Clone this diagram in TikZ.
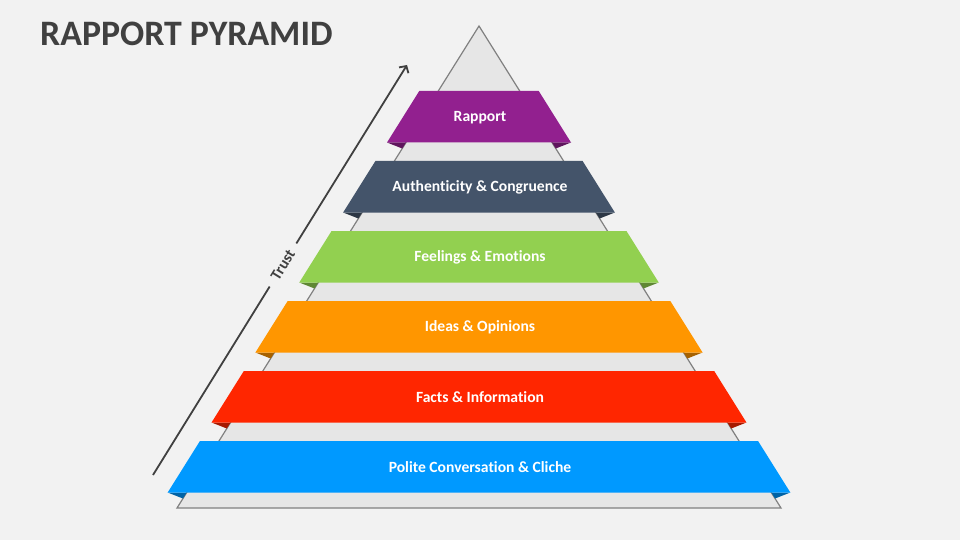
\documentclass[tikz,border=0pt]{standalone}
\usepackage{fontspec}
\setmainfont{Carlito}[Ligatures=NoCommon]
\usetikzlibrary{arrows.meta}
\definecolor{bg}{HTML}{F2F2F2}
\definecolor{titlegray}{HTML}{404040}
\definecolor{pyrfill}{HTML}{E6E6E6}
\definecolor{pyrline}{HTML}{808080}
\definecolor{cRap}{HTML}{92208F}
\definecolor{cAuth}{HTML}{44546A}
\definecolor{cFeel}{HTML}{92D050}
\definecolor{cIdea}{HTML}{FF9600}
\definecolor{cFact}{HTML}{FF2600}
\definecolor{cPol}{HTML}{0099FF}
\tikzset{
  pyr/.style={fill=pyrfill, draw=pyrline, line width=1.2pt, line join=miter},
  bandtext/.style={text=white, font=\bfseries\fontsize{15.6}{18}\selectfont, inner sep=0pt},
  trustline/.style={draw=titlegray, line width=1.8pt},
}
\begin{document}
\begin{tikzpicture}[x=1pt,y=-1pt]
\fill[bg] (0,0) rectangle (960,540);
\useasboundingbox (0,0) rectangle (960,540);
\node[anchor=base west, font=\bfseries\fontsize{35.8}{40}\selectfont, text=titlegray, inner sep=0pt] (title) at (40,46) {RAPPORT PYRAMID};
\draw[pyr] (479,26) -- (177,508) -- (781,508) -- cycle;
\foreach \i/\col/\txt in {0/cRap/Rapport,1/cAuth/Authenticity \& Congruence,2/cFeel/Feelings \& Emotions,3/cIdea/Ideas \& Opinions,4/cFact/Facts \& Information,5/cPol/Polite Conversation \& Cliche}{
  \pgfmathsetmacro\t{91+70*\i}
  \pgfmathsetmacro\b{\t+51.5}
  \pgfmathsetmacro\bb{\b+6}
  \pgfmathsetmacro\tl{479-0.6266*(\t-26)-19}
  \pgfmathsetmacro\bl{479-0.6266*(\b-26)-19}
  \pgfmathsetmacro\pl{479-0.6266*(\b-26)}
  \pgfmathsetmacro\pll{479-0.6266*(\bb-26)}
  \pgfmathsetmacro\tr{958-\tl}
  \pgfmathsetmacro\br{958-\bl}
  \pgfmathsetmacro\pr{958-\pl}
  \pgfmathsetmacro\prr{958-\pll}
  \pgfmathsetmacro\m{(\t+\b)/2+0.5}
  \fill[\col!65!black] (\bl,\b) -- (\pl,\b) -- (\pll,\bb) -- cycle;
  \fill[\col!65!black] (\br,\b) -- (\pr,\b) -- (\prr,\bb) -- cycle;
  \fill[\col] (\tl,\t) -- (\tr,\t) -- (\br,\b) -- (\bl,\b) -- cycle;
  \node[bandtext] (band\i) at (480,\m) {\txt};
}
\coordinate (ts) at (153,475);
\coordinate (te) at (407,65);
\node[rotate=58.2, text=titlegray, font=\bfseries\fontsize{15.6}{18}\selectfont, inner xsep=9pt, inner ysep=2pt] (trust) at (283,265) {Trust};
\draw[trustline] (ts) -- (trust);
\draw[trustline, -{Straight Barb[length=5pt,width=11pt]}] (trust) -- (te);
\end{tikzpicture}
\end{document}
